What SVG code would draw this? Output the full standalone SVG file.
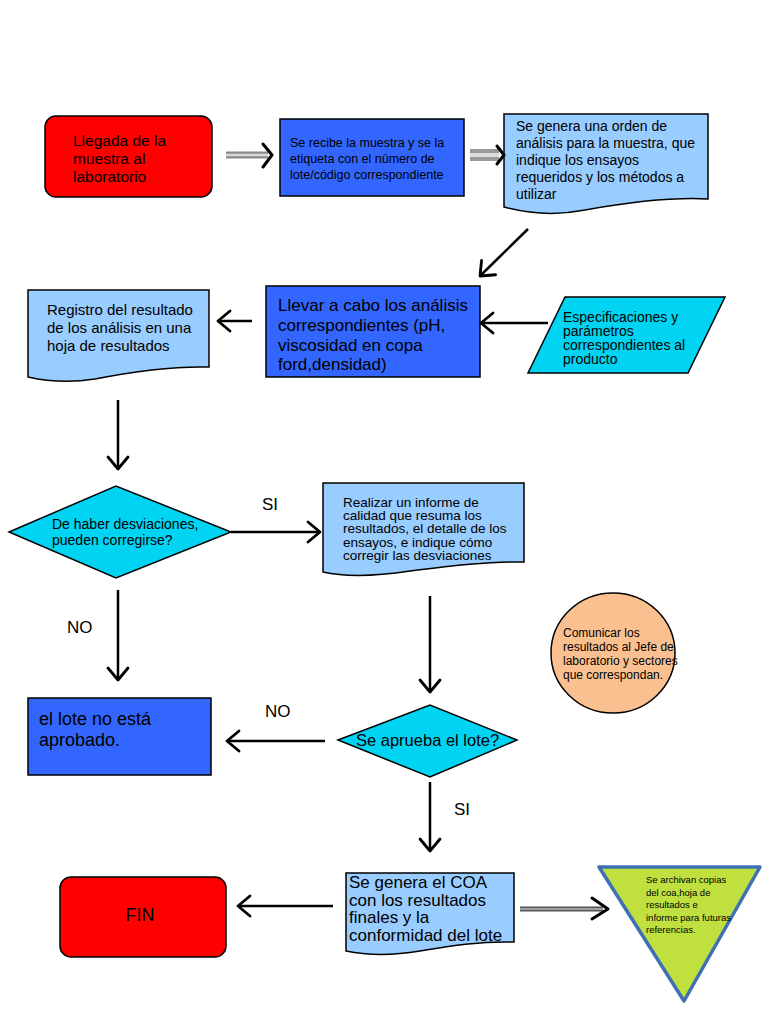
<svg xmlns="http://www.w3.org/2000/svg" width="768" height="1024" viewBox="0 0 768 1024">
<defs>
<style>
text{font-family:"Liberation Sans",Arial,sans-serif;fill:#000}
.b{stroke:#000;stroke-width:1.5}
.red{fill:#FF0000}
.blue{fill:#3366FF}
.lb{fill:#99CCFF}
.cy{fill:#00D4F2}
.ln{fill:none;stroke:#000;stroke-width:2.5}
.hd{fill:none;stroke:#000;stroke-width:3;stroke-linecap:round;stroke-linejoin:round}
</style>
<marker id="ah" viewBox="0 0 16 24" refX="14" refY="12" markerWidth="16" markerHeight="24" markerUnits="userSpaceOnUse" orient="auto">
<path d="M2,2 L14,12 L2,22" fill="none" stroke="#000" stroke-width="2.8" stroke-linecap="round" stroke-linejoin="round"/>
</marker>
</defs>
<rect width="768" height="1024" fill="#fff"/>

<g id="n1">
<rect x="45" y="116" width="167" height="81" rx="11" class="red b"/>
<text font-size="15.5"><tspan x="73" y="146">Llegada de la</tspan><tspan x="73" y="164">muestra al</tspan><tspan x="73" y="182">laboratorio</tspan></text>
</g>

<g id="n2">
<rect x="280" y="119" width="184" height="77" class="blue b"/>
<text font-size="12.5"><tspan x="290" y="147">Se recibe la muestra y se la</tspan><tspan x="290" y="163">etiqueta con el número de</tspan><tspan x="290" y="179">lote/código correspondiente</tspan></text>
</g>

<g id="n3">
<path d="M504,114 H708 V199 C670,197 630,202 585,210 C555,216 530,214 504,207 Z" class="lb b"/>
<text font-size="14"><tspan x="516" y="131">Se genera una orden de</tspan><tspan x="516" y="148">análisis para la muestra, que</tspan><tspan x="516" y="165">indique los ensayos</tspan><tspan x="516" y="182">requeridos y los métodos a</tspan><tspan x="516" y="199">utilizar</tspan></text>
</g>

<g id="n4">
<rect x="266" y="286" width="214" height="91" class="blue b"/>
<text font-size="17"><tspan x="278" y="311">Llevar a cabo los análisis</tspan><tspan x="278" y="331">correspondientes (pH,</tspan><tspan x="278" y="351">viscosidad en copa</tspan><tspan x="278" y="370">ford,densidad)</tspan></text>
</g>

<g id="n5">
<polygon points="565,297 725,297 688,373 528,373" class="cy b" stroke-width="1"/>
<text font-size="14"><tspan x="563" y="322">Especificaciones y</tspan><tspan x="563" y="336">parámetros</tspan><tspan x="563" y="350">correspondientes al</tspan><tspan x="563" y="364">producto</tspan></text>
</g>

<g id="n6">
<path d="M28,290 H209 V367 C170,366 130,372 95,379 C70,383 50,382 28,377 Z" class="lb b"/>
<text font-size="15"><tspan x="47" y="315">Registro del resultado</tspan><tspan x="47" y="333">de los análisis en una</tspan><tspan x="47" y="351">hoja de resultados</tspan></text>
</g>

<g id="d1">
<polygon points="9,532 116,486 231,532 116,578" class="cy b" stroke-width="1"/>
<text font-size="14"><tspan x="52" y="529">De haber desviaciones,</tspan><tspan x="52" y="545">pueden corregirse?</tspan></text>
</g>

<g id="n7">
<path d="M323,483 H524 V562 C490,561 450,566 410,571 C370,577 345,577 323,572 Z" class="lb b"/>
<text font-size="13.5"><tspan x="343" y="507">Realizar un informe de</tspan><tspan x="343" y="520">calidad que resuma los</tspan><tspan x="343" y="533">resultados, el detalle de los</tspan><tspan x="343" y="547">ensayos, e indique cómo</tspan><tspan x="343" y="560">corregir las desviaciones</tspan></text>
</g>

<g id="c1">
<ellipse cx="613" cy="653" rx="62" ry="60" fill="#FAC090" class="b"/>
<text font-size="12"><tspan x="563" y="637">Comunicar los</tspan><tspan x="563" y="651">resultados al Jefe de</tspan><tspan x="563" y="665">laboratorio y sectores</tspan><tspan x="563" y="679">que correspondan.</tspan></text>
</g>

<g id="n8">
<rect x="28" y="698" width="183" height="77" class="blue b"/>
<text font-size="18"><tspan x="39" y="725">el lote no está</tspan><tspan x="39" y="746">aprobado.</tspan></text>
</g>

<g id="d2">
<polygon points="338,740 430,705 517,740 430,777" class="cy b" stroke-width="1"/>
<text x="356" y="746" font-size="16.5">Se aprueba el lote?</text>
</g>

<g id="n9">
<path d="M346,873 H514 V942 C480,941 450,946 420,951 C390,956 365,955 346,951 Z" class="lb b"/>
<text font-size="17"><tspan x="349" y="888">Se genera el COA</tspan><tspan x="349" y="906">con los resultados</tspan><tspan x="349" y="923">finales y la</tspan><tspan x="349" y="941">conformidad del lote</tspan></text>
</g>

<g id="fin">
<rect x="60" y="877" width="166" height="80" rx="11" class="red b"/>
<text x="140" y="921" font-size="18" text-anchor="middle">FIN</text>
</g>

<g id="t1">
<polygon points="599,867 760,867 684,1001" fill="#BFE03F" stroke="#3F70B5" stroke-width="3.5" stroke-linejoin="round"/>
<text font-size="9.5"><tspan x="646" y="883">Se archivan copias</tspan><tspan x="646" y="896">del coa,hoja de</tspan><tspan x="646" y="908">resultados e</tspan><tspan x="646" y="921">informe para futuras</tspan><tspan x="646" y="933">referencias.</tspan></text>
</g>

<g id="connectors">
<!-- gray arrow 1 -->
<line x1="226" y1="155" x2="268" y2="155" stroke="#8a8a8a" stroke-width="7"/>
<line x1="226" y1="155" x2="268" y2="155" stroke="#d8d8d8" stroke-width="2.5"/>
<path d="M263,144 L272,155 L263,167" class="hd" stroke="#333"/>
<!-- gray arrow 2 -->
<line x1="470" y1="155" x2="499" y2="155" stroke="#9a9a9a" stroke-width="12"/>
<line x1="470" y1="155" x2="499" y2="155" stroke="#dcdcdc" stroke-width="4"/>
<path d="M497,146 L504,155 L497,164" class="hd" stroke="#555"/>
<!-- diagonal -->
<line x1="528" y1="229" x2="480" y2="276" class="ln" marker-end="url(#ah)"/>
<!-- spec to analysis -->
<line x1="548" y1="323" x2="481" y2="323" class="ln" marker-end="url(#ah)"/>
<!-- analysis to registro -->
<line x1="252" y1="321" x2="218" y2="321" class="ln" marker-end="url(#ah)"/>
<!-- registro down -->
<line x1="118" y1="400" x2="118" y2="469" class="ln" marker-end="url(#ah)"/>
<!-- SI -->
<line x1="231" y1="532" x2="320" y2="532" class="ln" marker-end="url(#ah)"/>
<text x="262" y="510" font-size="17">SI</text>
<!-- NO down -->
<line x1="118" y1="590" x2="118" y2="680" class="ln" marker-end="url(#ah)"/>
<text x="67" y="633" font-size="17">NO</text>
<!-- informe down -->
<line x1="430" y1="596" x2="430" y2="692" class="ln" marker-end="url(#ah)"/>
<!-- NO left -->
<line x1="325" y1="741" x2="227" y2="741" class="ln" marker-end="url(#ah)"/>
<text x="265" y="717" font-size="17">NO</text>
<!-- SI down -->
<line x1="430" y1="782" x2="430" y2="851" class="ln" marker-end="url(#ah)"/>
<text x="454" y="815" font-size="17">SI</text>
<!-- COA to FIN -->
<line x1="333" y1="906" x2="238" y2="906" class="ln" marker-end="url(#ah)"/>
<!-- COA to archive -->
<line x1="520" y1="909" x2="603" y2="909" stroke="#555" stroke-width="5"/>
<line x1="520" y1="909" x2="603" y2="909" stroke="#bbb" stroke-width="1.5"/>
<path d="M592,898 L608,909 L592,919" class="hd" stroke="#222"/>
</g>
</svg>
